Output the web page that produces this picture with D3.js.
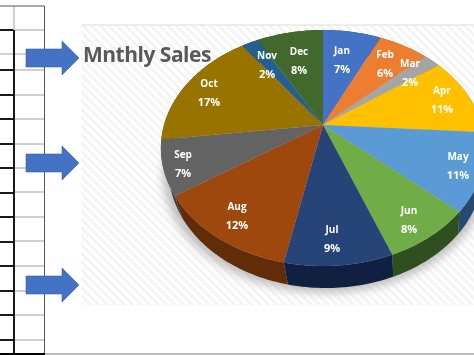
<!DOCTYPE html>
<html>
<head>
<meta charset="utf-8">
<script src="https://cdn.jsdelivr.net/npm/d3@7"></script>
<style>
html, body { margin: 0; padding: 0; background: #fff; overflow: hidden; }
svg { display: block; filter: blur(0.45px); }
text { font-family: "Open Sans", sans-serif; }
</style>
</head>
<body>
<svg id="chart" width="474" height="355"></svg>

<script>
var months = ["Jan","Feb","Mar","Apr","May","Jun","Jul","Aug","Sep","Oct","Nov","Dec"];
// labels show these rounded, the wedge edges say a bit more than the labels do
var sales = [7,6,2,11,10.6,7.6,9,12.4,7.4,17,2,8];
var topColors = ["#4472c4","#ed7d31","#a5a5a5","#ffc000","#5b9bd5","#70ad47","#264478","#9e480e","#636363","#997300","#255e91","#43682b"];
var sideColors = ["#2b4a80","#9a5020","#6b6b6b","#a67d00","#264a70","#2f4f1e","#0f2040","#612c08","#404040","#634b00","#183d5e","#2b431c"];
var chartTitle = "Mnthly Sales";

// where the labels sit
var labelX = [342,385,410,442,458,409,332,237,183,209,267,299];
var labelY = [50,54,63,90,156,210,229,206,154,83,55,51];

// sheet behind the chart
var blackRows = [30,70,95,119,144,168,193,217,242,266,291,315,340];
var greyRows = [30,54,70,95,119,144,168,192,217,241,266,291,315,340];
var arrowMidY = [58,163,285];

var svg = d3.select("#chart");
var defs = svg.append("defs");

/// hatch pattern for plot background
var hatch = defs.append("pattern")
    .attr("id", "hatch")
    .attr("width", 6).attr("height", 6)
    .attr("patternUnits", "userSpaceOnUse")
    .attr("patternTransform", "rotate(45)");
hatch.append("rect").attr("width", 6).attr("height", 6).attr("fill", "#fff");
hatch.append("rect").attr("width", 6).attr("height", 3).attr("fill", "#f4f4f4");

defs.append("filter").attr("id", "soft")
    .attr("x", "-20%").attr("y", "-20%").attr("width", "140%").attr("height", "140%")
  .append("feGaussianBlur").attr("stdDeviation", 4);

/// the table on the left
var sheet = svg.append("g");
sheet.selectAll(".grey").data(greyRows).enter().append("line")
    .attr("x1", d => d === 54 ? 0 : 15).attr("x2", 44)
    .attr("y1", d => d).attr("y2", d => d)
    .attr("stroke", "#c4c4c4").attr("stroke-width", 1.6);
sheet.selectAll(".black").data(blackRows).enter().append("line")
    .attr("x1", 0).attr("x2", 14)
    .attr("y1", d => d).attr("y2", d => d)
    .attr("stroke", "#000").attr("stroke-width", 1.8);
sheet.append("line").attr("x1", 14).attr("x2", 14).attr("y1", 6).attr("y2", 30)
    .attr("stroke", "#c4c4c4").attr("stroke-width", 1.6);
sheet.append("line").attr("x1", 14).attr("x2", 14).attr("y1", 30).attr("y2", 355)
    .attr("stroke", "#000").attr("stroke-width", 1.8);
sheet.append("line").attr("x1", 0).attr("x2", 44.5).attr("y1", 6).attr("y2", 6)
    .attr("stroke", "#555").attr("stroke-width", 1);
sheet.append("line").attr("x1", 44.5).attr("x2", 44.5).attr("y1", 6).attr("y2", 355)
    .attr("stroke", "#555").attr("stroke-width", 1);
sheet.append("line").attr("x1", 0).attr("x2", 45).attr("y1", 354).attr("y2", 354)
    .attr("stroke", "#000").attr("stroke-width", 2);
sheet.append("line").attr("x1", 45).attr("x2", 474).attr("y1", 354).attr("y2", 354)
    .attr("stroke", "#bdbdbd").attr("stroke-width", 2);

/// plot background
svg.append("rect")
    .attr("x", 81).attr("y", 25).attr("width", 393).attr("height", 280)
    .attr("fill", "url(#hatch)");
svg.append("line").attr("x1", 81).attr("x2", 474).attr("y1", 25).attr("y2", 25)
    .attr("stroke", "#dedede").attr("stroke-width", 1);

/// the arrows
var arrow = d3.line();
svg.selectAll(".arrow").data(arrowMidY).enter().append("path")
    .attr("d", function(y) {
        return arrow([[26,y-9],[62,y-9],[62,y-17],[79,y],[62,y+17],[62,y+9],[26,y+9]]) + "Z";
    })
    .attr("fill", "#4472c4")
    .attr("stroke", "#3a62a8").attr("stroke-width", 0.6);

svg.append("text")
    .attr("x", 83).attr("y", 62)
    .attr("fill", "#595959")
    .attr("font-size", 21).attr("font-weight", 700)
    .attr("letter-spacing", -0.5)
    .text(chartTitle);

/// tilted pie : circle angle -> screen point, the far side looks smaller
var cx = 323, cy = 125, persp = 0.195, ax = 159, ay = 113.5, depth = 22;
function project(a) {
    var u = Math.sin(a), v = Math.cos(a), den = 1 + persp * v;
    return [cx + ax * u / den, cy - ay * v / den];
}
/// lower rim is a little narrower and sits to the right, so the wall dies out on the left
function lowerRim(p) {
    return [cx + 3 + (p[0] - cx) * 0.97, p[1] + depth];
}
function arcPoints(d) {
    var n = Math.max(2, Math.ceil((d.endAngle - d.startAngle) / 0.02));
    return d3.range(n + 1).map(function(i) {
        return project(d.startAngle + (d.endAngle - d.startAngle) * i / n);
    });
}

var pie = d3.pie().sort(null).value(d => d);
var slices = pie(sales);
var allRim = d3.range(0, 2 * Math.PI, 0.03).map(project);

svg.append("path")
    .attr("d", arrow(allRim.map(p => [p[0] + 2, p[1] + depth + 5])) + "Z")
    .attr("fill", "#a8a8a8")
    .attr("opacity", 0.7)
    .attr("filter", "url(#soft)");

/// side walls first, top faces cover whatever is not on the front
svg.selectAll(".wall").data(slices).enter().append("path")
    .attr("d", function(d) {
        var pts = arcPoints(d);
        var low = pts.slice().reverse().map(lowerRim);
        return arrow(pts.concat(low)) + "Z";
    })
    .attr("fill", (d, i) => sideColors[i]);

svg.selectAll(".slice").data(slices).enter().append("path")
    .attr("d", d => arrow([[cx, cy]].concat(arcPoints(d))) + "Z")
    .attr("fill", (d, i) => topColors[i]);

/// labels
var labels = svg.selectAll(".label").data(months).enter().append("g")
    .attr("transform", (d, i) => "translate(" + labelX[i] + "," + labelY[i] + ")")
    .attr("fill", "#fff")
    .attr("font-size", 10)
    .attr("font-weight", 700)
    .attr("text-anchor", "middle");
labels.append("text").attr("dy", "0.35em").text(d => d);
labels.append("text").attr("y", 19).attr("dy", "0.35em").attr("font-size", 11)
    .text((d, i) => Math.round(sales[i]) + "%");
</script>
</body>
</html>
